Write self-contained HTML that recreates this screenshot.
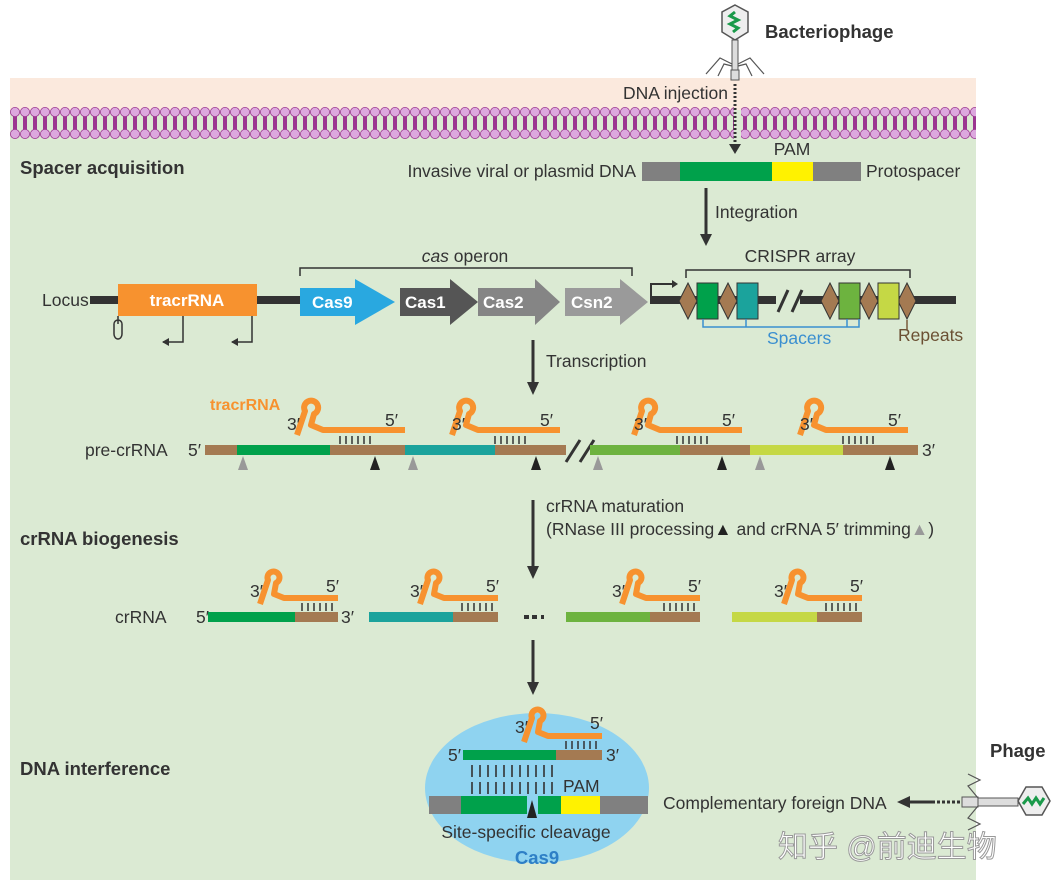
<!DOCTYPE html>
<html><head><meta charset="utf-8"><style>
html,body{margin:0;padding:0;background:#fff;}
svg{display:block;font-family:"Liberation Sans",sans-serif;}
.t{font-size:17.5px;fill:#333;}
.s{font-size:16px;fill:#333;}
.b{font-size:18.5px;font-weight:bold;fill:#333;}
.w{font-size:17px;font-weight:bold;fill:#fff;}
</style></head><body>
<svg width="1059" height="891" viewBox="0 0 1059 891" xmlns="http://www.w3.org/2000/svg">
<defs>
<pattern id="mem" x="10" y="107" width="10" height="32" patternUnits="userSpaceOnUse">
<rect x="3" y="6" width="4" height="20" fill="#9b3590"/>
<circle cx="5" cy="5" r="4.6" fill="#dca8de" stroke="#9b3590" stroke-width="0.8"/>
<circle cx="5" cy="27" r="4.6" fill="#dca8de" stroke="#9b3590" stroke-width="0.8"/>
</pattern>
<g id="hpPre" fill="none" stroke="#f7922f" stroke-width="6" stroke-linejoin="round">
<path d="M-108 -10 L-100 -34 a7 7 0 1 1 9 3 L-94 -20 L-82 -15 L0 -15"/>
<path d="M-65 -9 v8 M-59 -9 v8 M-53 -9 v8 M-47 -9 v8 M-41 -9 v8 M-35 -9 v8" stroke="#333" stroke-width="1.5"/>
</g>
<g id="hpCr" fill="none" stroke="#f7922f" stroke-width="6" stroke-linejoin="round">
<path d="M-78 -8 L-70 -32 a6 6 0 1 1 8 3 L-64 -18 L-54 -14 L0 -14"/>
<path d="M-36 -9 v8 M-30 -9 v8 M-24 -9 v8 M-18 -9 v8 M-12 -9 v8 M-6 -9 v8" stroke="#333" stroke-width="1.5"/>
</g>
</defs>
<rect width="1059" height="891" fill="#fff"/>
<rect x="10" y="78" width="966" height="802" fill="#dbead3"/>
<rect x="10" y="78" width="966" height="32" fill="#fbe9dd"/>
<rect x="10" y="107" width="724" height="32" fill="url(#mem)"/>
<rect x="741" y="107" width="235" height="32" fill="url(#mem)"/>

<!-- bacteriophage top -->
<polygon points="735,5 748,12 748,32 735,40 722,32 722,12" fill="#eee" stroke="#555" stroke-width="1.5"/>
<path d="M735 12 l-5 4 l8 4 l-8 4 l8 4 l-5 4" stroke="#1a9a4a" stroke-width="3" fill="none"/>
<rect x="732" y="40" width="6" height="30" fill="#ddd" stroke="#555"/>
<path d="M732 64 l-12 -6 l-14 16 M738 64 l12 -6 l14 16 M732 66 l-8 -2 l-6 12 M738 66 l8 -2 l6 12" stroke="#555" fill="none" stroke-width="1.2"/>
<rect x="731" y="70" width="8" height="10" fill="#ddd" stroke="#555"/>
<text x="765" y="38" class="b">Bacteriophage</text>
<text x="728" y="99" class="t" text-anchor="end">DNA injection</text>
<line x1="735" y1="84" x2="735" y2="146" stroke="#333" stroke-width="3" stroke-dasharray="2,2"/>
<polygon points="729,144 741,144 735,154" fill="#333"/>

<text x="20" y="174" class="b">Spacer acquisition</text>
<text x="636" y="177" class="t" text-anchor="end">Invasive viral or plasmid DNA</text>
<rect x="642" y="162" width="38" height="19" fill="#808080"/>
<rect x="680" y="162" width="92" height="19" fill="#00a14b"/>
<rect x="772" y="162" width="41" height="19" fill="#fff200"/>
<rect x="813" y="162" width="48" height="19" fill="#808080"/>
<text x="792" y="155" class="t" text-anchor="middle">PAM</text>
<text x="866" y="177" class="t">Protospacer</text>
<line x1="706" y1="188" x2="706" y2="236" stroke="#333" stroke-width="3"/>
<polygon points="700,234 712,234 706,246" fill="#333"/>
<text x="715" y="218" class="t">Integration</text>

<!-- locus -->
<text x="42" y="306" class="t">Locus</text>
<rect x="90" y="296" width="210" height="8" fill="#333"/>
<rect x="118" y="284" width="139" height="32" fill="#f7922f"/>
<text x="187" y="306" class="w" text-anchor="middle">tracrRNA</text>
<path d="M118 316 v8 M114 324 v10 a4 5 0 0 0 8 0 v-10 a4 4 0 0 0 -8 0" fill="none" stroke="#333" stroke-width="1.5"/>
<path d="M183 316 v26 h-20 M252 316 v26 h-20" fill="none" stroke="#333" stroke-width="1.5"/>
<polygon points="162,342 169,338 169,346" fill="#333"/>
<polygon points="231,342 238,338 238,346" fill="#333"/>
<path d="M300 276 v-8 h332 v8" fill="none" stroke="#333" stroke-width="1.5"/>
<text x="465" y="262" class="t" text-anchor="middle"><tspan font-style="italic">cas</tspan> operon</text>
<polygon points="300,288 355,288 355,279 395,302 355,325 355,316 300,316" fill="#29a8e0"/>
<text x="312" y="308" class="w">Cas9</text>
<polygon points="400,288 450,288 450,279 478,302 450,325 450,316 400,316" fill="#555"/>
<text x="405" y="308" class="w">Cas1</text>
<polygon points="478,288 535,288 535,279 560,302 535,325 535,316 478,316" fill="#858585"/>
<text x="483" y="308" class="w">Cas2</text>
<polygon points="565,288 620,288 620,279 648,302 620,325 620,316 565,316" fill="#9a9a9a"/>
<text x="571" y="308" class="w">Csn2</text>
<!-- crispr array -->
<rect x="650" y="296" width="126" height="8" fill="#333"/>
<rect x="800" y="296" width="156" height="8" fill="#333"/>
<path d="M778 312 l10 -22 M792 312 l10 -22" stroke="#333" stroke-width="3"/>
<path d="M651 300 v-16 h22" fill="none" stroke="#333" stroke-width="2"/>
<polygon points="672,280 678,284 672,288" fill="#333"/>
<path d="M686 278 v-8 h224 v8" fill="none" stroke="#333" stroke-width="1.5"/>
<text x="800" y="262" class="t" text-anchor="middle">CRISPR array</text>
<g fill="#a47a52" stroke="#333" stroke-width="1">
<polygon points="688,283 697,301 688,319 679,301"/>
<polygon points="728,283 737,301 728,319 719,301"/>
<polygon points="830,283 839,301 830,319 821,301"/>
<polygon points="869,283 878,301 869,319 860,301"/>
<polygon points="907,283 916,301 907,319 898,301"/>
</g>
<rect x="697" y="283" width="21" height="36" fill="#00a14b" stroke="#333"/>
<rect x="737" y="283" width="21" height="36" fill="#1ba39c" stroke="#333"/>
<rect x="839" y="283" width="21" height="36" fill="#6db33f" stroke="#333"/>
<rect x="878" y="283" width="21" height="36" fill="#c5d845" stroke="#333"/>
<path d="M703 319 v8 h156 v-8 M746 319 v8 M847 327 v-8" fill="none" stroke="#3a8fd0" stroke-width="1.5"/>
<text x="767" y="344" class="t" style="fill:#3a8fd0">Spacers</text>
<line x1="907" y1="320" x2="907" y2="330" stroke="#7a5a3a" stroke-width="1.5"/>
<text x="898" y="341" class="t" style="fill:#6b5033">Repeats</text>

<line x1="533" y1="340" x2="533" y2="384" stroke="#333" stroke-width="3"/>
<polygon points="527,382 539,382 533,395" fill="#333"/>
<text x="546" y="367" class="t">Transcription</text>

<!-- pre-crRNA -->
<text x="85" y="456" class="t">pre-crRNA</text>
<text x="188" y="456" class="t">5′</text>
<rect x="205" y="445" width="32" height="10" fill="#a47a52"/>
<rect x="237" y="445" width="93" height="10" fill="#00a14b"/>
<rect x="330" y="445" width="75" height="10" fill="#a47a52"/>
<rect x="405" y="445" width="90" height="10" fill="#1ba39c"/>
<rect x="495" y="445" width="71" height="10" fill="#a47a52"/>
<path d="M566 462 l14 -22 M580 462 l14 -22" stroke="#333" stroke-width="3"/>
<rect x="590" y="445" width="90" height="10" fill="#6db33f"/>
<rect x="680" y="445" width="70" height="10" fill="#a47a52"/>
<rect x="750" y="445" width="93" height="10" fill="#c5d845"/>
<rect x="843" y="445" width="75" height="10" fill="#a47a52"/>
<text x="922" y="456" class="t">3′</text>
<text x="210" y="410" class="b" style="fill:#f7922f;font-size:16px">tracrRNA</text>
<use href="#hpPre" x="405" y="445"/><text x="287" y="430" class="t">3′</text><text x="385" y="426" class="t">5′</text>
<use href="#hpPre" x="560" y="445"/><text x="452" y="430" class="t">3′</text><text x="540" y="426" class="t">5′</text>
<use href="#hpPre" x="742" y="445"/><text x="634" y="430" class="t">3′</text><text x="722" y="426" class="t">5′</text>
<use href="#hpPre" x="908" y="445"/><text x="800" y="430" class="t">3′</text><text x="888" y="426" class="t">5′</text>
<g fill="#999">
<polygon points="243,456 248,470 238,470"/><polygon points="413,456 418,470 408,470"/>
<polygon points="598,456 603,470 593,470"/><polygon points="760,456 765,470 755,470"/>
</g>
<g fill="#222">
<polygon points="375,456 380,470 370,470"/><polygon points="536,456 541,470 531,470"/>
<polygon points="722,456 727,470 717,470"/><polygon points="890,456 895,470 885,470"/>
</g>

<line x1="533" y1="500" x2="533" y2="568" stroke="#333" stroke-width="3"/>
<polygon points="527,566 539,566 533,579" fill="#333"/>
<text x="546" y="512" class="t">crRNA maturation</text>
<text x="546" y="535" class="t">(RNase III processing<tspan style="fill:#222">▲</tspan> and crRNA 5′ trimming<tspan style="fill:#999">▲</tspan>)</text>
<text x="20" y="545" class="b">crRNA biogenesis</text>

<!-- crRNA -->
<text x="115" y="623" class="t">crRNA</text>
<text x="196" y="623" class="t">5′</text>
<rect x="208" y="612" width="87" height="10" fill="#00a14b"/><rect x="295" y="612" width="43" height="10" fill="#a47a52"/>
<text x="341" y="623" class="t">3′</text>
<rect x="369" y="612" width="84" height="10" fill="#1ba39c"/><rect x="453" y="612" width="45" height="10" fill="#a47a52"/>
<rect x="524" y="615" width="5" height="4" fill="#333"/><rect x="532" y="615" width="5" height="4" fill="#333"/><rect x="541" y="615" width="3" height="4" fill="#333"/>
<rect x="566" y="612" width="84" height="10" fill="#6db33f"/><rect x="650" y="612" width="50" height="10" fill="#a47a52"/>
<rect x="732" y="612" width="85" height="10" fill="#c5d845"/><rect x="817" y="612" width="45" height="10" fill="#a47a52"/>
<use href="#hpCr" x="338" y="612"/><text x="250" y="597" class="t">3′</text><text x="326" y="592" class="t">5′</text>
<use href="#hpCr" x="498" y="612"/><text x="410" y="597" class="t">3′</text><text x="486" y="592" class="t">5′</text>
<use href="#hpCr" x="700" y="612"/><text x="612" y="597" class="t">3′</text><text x="688" y="592" class="t">5′</text>
<use href="#hpCr" x="862" y="612"/><text x="774" y="597" class="t">3′</text><text x="850" y="592" class="t">5′</text>

<line x1="533" y1="640" x2="533" y2="684" stroke="#333" stroke-width="3"/>
<polygon points="527,682 539,682 533,695" fill="#333"/>

<text x="20" y="775" class="b">DNA interference</text>
<!-- cas9 complex -->
<ellipse cx="537" cy="788" rx="112" ry="75" fill="#8fd3f0"/>
<rect x="463" y="750" width="93" height="10" fill="#00a14b"/><rect x="556" y="750" width="46" height="10" fill="#a47a52"/>
<use href="#hpCr" x="602" y="750"/>
<text x="515" y="733" class="t">3′</text><text x="590" y="729" class="t">5′</text>
<text x="448" y="761" class="t">5′</text><text x="606" y="761" class="t">3′</text>
<g stroke="#333" stroke-width="1.6">
<path d="M472 765 v12 M480 765 v12 M488 765 v12 M496 765 v12 M504 765 v12 M512 765 v12 M520 765 v12 M528 765 v12 M536 765 v12 M544 765 v12 M552 765 v12"/>
<path d="M472 782 v12 M480 782 v12 M488 782 v12 M496 782 v12 M504 782 v12 M512 782 v12 M520 782 v12 M528 782 v12 M536 782 v12 M544 782 v12 M552 782 v12"/>
</g>
<text x="563" y="792" class="t">PAM</text>
<rect x="429" y="796" width="32" height="18" fill="#808080"/>
<rect x="461" y="796" width="66" height="18" fill="#00a14b"/>
<rect x="538" y="796" width="23" height="18" fill="#00a14b"/>
<rect x="561" y="796" width="39" height="18" fill="#fff200"/>
<rect x="600" y="796" width="48" height="18" fill="#808080"/>
<polygon points="532,800 537,818 527,818" fill="#222"/>
<text x="526" y="838" class="t" text-anchor="middle">Site-specific cleavage</text>
<text x="537" y="864" class="b" style="fill:#2e7fc6" text-anchor="middle">Cas9</text>

<text x="663" y="809" class="t">Complementary foreign DNA</text>
<line x1="908" y1="802" x2="935" y2="802" stroke="#333" stroke-width="3"/>
<line x1="937" y1="802" x2="962" y2="802" stroke="#333" stroke-width="3" stroke-dasharray="3,2"/>
<polygon points="897,802 910,796 910,808" fill="#333"/>
<rect x="962" y="797" width="16" height="10" fill="#ddd" stroke="#555"/>
<rect x="978" y="798" width="40" height="8" fill="#ddd" stroke="#555"/>
<path d="M978 798 l-10 -12 l12 -6 l-12 -6 M978 806 l-10 12 l12 6 l-12 6" fill="none" stroke="#555" stroke-width="1.2"/>
<polygon points="1018,801 1026,787 1042,787 1050,801 1042,815 1026,815" fill="#eee" stroke="#555" stroke-width="1.5"/>
<path d="M1023 804 l5 -6 l4 6 l4 -6 l4 6 l4 -6" stroke="#1a9a4a" stroke-width="3" fill="none"/>
<text x="990" y="757" class="b">Phage</text>

<text x="778" y="857" style="font-family:'Liberation Sans','Noto Sans CJK SC',sans-serif;font-size:30px;fill:#fff;stroke:#999;stroke-width:1">知乎 @前迪生物</text>
</svg>
</body></html>
